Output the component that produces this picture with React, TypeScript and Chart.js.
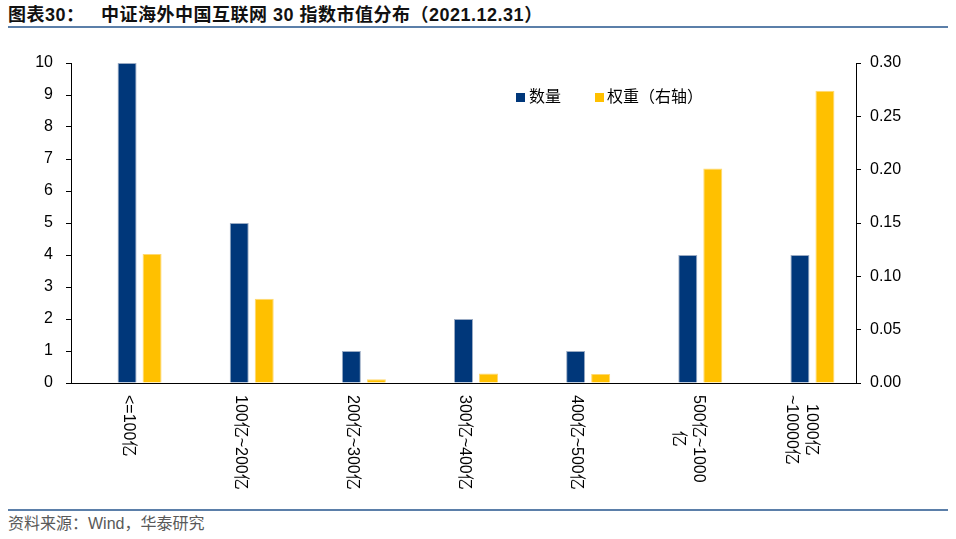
import React, { useEffect, useRef } from 'react';
import { Chart, registerables } from 'chart.js';

Chart.register(...registerables);

// ---- data ----
const categories: string[][] = [
  ['<=100亿'],
  ['100亿~200亿'],
  ['200亿~300亿'],
  ['300亿~400亿'],
  ['400亿~500亿'],
  ['500亿~1000', '亿'],
  ['1000亿', '~10000亿'],
];
const countValues = [10, 5, 1, 2, 1, 4, 4];
const weightValues = [0.121, 0.079, 0.0035, 0.009, 0.0084, 0.201, 0.274];
const leftMin = 0;
const leftMax = 10;
const leftStep = 1;
const rightMin = 0;
const rightMax = 0.3;
const rightStep = 0.05;

const titleText = '图表30：   中证海外中国互联网 30 指数市值分布（2021.12.31）';
const sourceText = '资料来源：Wind，华泰研究';
const seriesNames = ['数量', '权重（右轴）'];

const NAVY = '#00377A';
const GOLD = '#FFC000';
const RULE = '#5B7FA9';

const xLabelPlugin = {
  id: 'rotatedXLabels',
  afterDraw(chart: any) {
    const { ctx, chartArea, scales } = chart;
    const xs = scales.x;
    ctx.save();
    ctx.font = "16px 'Liberation Sans', 'Noto Sans CJK SC', sans-serif";
    ctx.fillStyle = '#000';
    ctx.textAlign = 'center';
    ctx.textBaseline = 'middle';
    const lh = 20;
    categories.forEach((lines, i) => {
      const px = xs.getPixelForValue(i);
      const maxW = Math.max(...lines.map((l) => ctx.measureText(l).width));
      ctx.save();
      ctx.translate(px + 1, chartArea.bottom + 12);
      ctx.rotate(Math.PI / 2);
      lines.forEach((line, j) => {
        ctx.fillText(line, maxW / 2, (j - (lines.length - 1) / 2) * lh);
      });
      ctx.restore();
    });
    ctx.restore();
  },
};

export default function App() {
  const ref = useRef<HTMLCanvasElement | null>(null);

  useEffect(() => {
    if (!ref.current) return;
    const chart = new Chart(ref.current, {
      type: 'bar',
      data: {
        labels: categories.map((c) => c.join('')),
        datasets: [
          {
            label: '',
            data: [],
            yAxisID: 'y',
            backgroundColor: 'rgba(0,0,0,0)',
          },
          {
            label: seriesNames[0],
            data: countValues,
            yAxisID: 'y',
            backgroundColor: NAVY,
            borderColor: '#9AABC4',
            borderWidth: 1,
          },
          {
            label: seriesNames[1],
            data: weightValues,
            yAxisID: 'y1',
            backgroundColor: GOLD,
            borderColor: '#FFD970',
            borderWidth: 1,
          },
        ],
      },
      options: {
        responsive: false,
        animation: false,
        devicePixelRatio: 1,
        datasets: {
          bar: {
            categoryPercentage: 0.669,
            barPercentage: 0.76,
          },
        },
        layout: { padding: { top: 33, left: 0, right: 0, bottom: 0 } },
        plugins: {
          legend: { display: false },
          tooltip: { enabled: false },
          title: { display: false },
        },
        scales: {
          x: {
            grid: { display: false },
            border: { display: true, color: '#000', width: 1 },
            ticks: { display: false },
            afterFit(s: any) {
              s.height = 117;
            },
          },
          y: {
            position: 'left',
            min: leftMin,
            max: leftMax,
            ticks: {
              stepSize: leftStep,
              color: '#000',
              padding: 13,
              font: { family: "'Liberation Sans', Arial, sans-serif", size: 16 },
            },
            grid: { drawOnChartArea: false, drawTicks: true, tickLength: 5, color: '#000' },
            border: { display: true, color: '#000', width: 1 },
            afterFit(s: any) {
              s.width = 71;
            },
          },
          y1: {
            position: 'right',
            min: rightMin,
            max: rightMax,
            ticks: {
              stepSize: rightStep,
              color: '#000',
              padding: 9,
              font: { family: "'Liberation Sans', Arial, sans-serif", size: 16 },
              callback: (v: any) => Number(v).toFixed(2),
            },
            grid: { drawOnChartArea: false, drawTicks: true, tickLength: 5, color: '#000' },
            border: { display: true, color: '#000', width: 1 },
            afterFit(s: any) {
              s.width = 100;
            },
          },
        },
      },
      plugins: [xLabelPlugin],
    } as any);
    return () => chart.destroy();
  }, []);

  const cjk = "'Liberation Sans', 'Noto Sans CJK SC', sans-serif";

  return (
    <div
      style={{
        position: 'fixed',
        left: 0,
        top: 0,
        width: 956,
        height: 539,
        background: '#fff',
        overflow: 'hidden',
        fontFamily: cjk,
      }}
    >
      <div
        style={{
          position: 'absolute',
          left: 8,
          top: 4,
          fontSize: 18,
          fontWeight: 'bold',
          lineHeight: '22px',
          letterSpacing: '0.5px',
          whiteSpace: 'pre',
          color: '#111',
        }}
      >
        {titleText}
      </div>
      <div style={{ position: 'absolute', left: 8, top: 26, width: 940, height: 2, background: RULE }} />

      <div style={{ position: 'absolute', left: 0, top: 30, width: 956, height: 470 }}>
        <canvas ref={ref} width={956} height={470} style={{ display: 'block' }} />
      </div>

      <div style={{ position: 'absolute', left: 516, top: 93, width: 9, height: 9, background: NAVY }} />
      <div style={{ position: 'absolute', left: 529, top: 87, fontSize: 16, lineHeight: '20px', color: '#000' }}>
        {seriesNames[0]}
      </div>
      <div style={{ position: 'absolute', left: 595, top: 93, width: 9, height: 9, background: GOLD }} />
      <div style={{ position: 'absolute', left: 607, top: 87, fontSize: 16, lineHeight: '20px', color: '#000' }}>
        {seriesNames[1]}
      </div>

      <div style={{ position: 'absolute', left: 8, top: 509, width: 940, height: 2, background: RULE }} />
      <div
        style={{
          position: 'absolute',
          left: 8,
          top: 514,
          fontSize: 16,
          lineHeight: '20px',
          color: '#595959',
          whiteSpace: 'pre',
        }}
      >
        {sourceText}
      </div>
    </div>
  );
}
